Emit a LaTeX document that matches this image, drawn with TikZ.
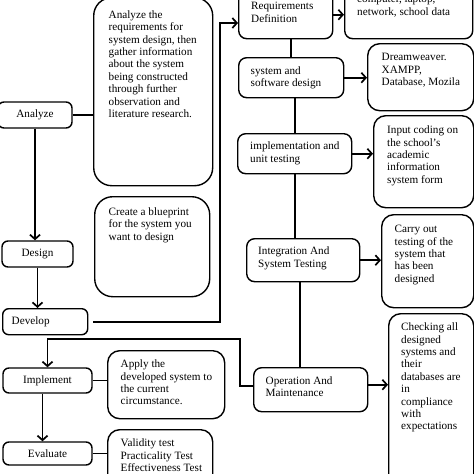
\documentclass[tikz,border=0pt]{standalone}
\usepackage{fontspec}
\setmainfont{Liberation Serif}
\usetikzlibrary{arrows.meta,calc}
\tikzset{
  every node/.style={font=\fontsize{11.2}{12.4}\selectfont},
  sbox/.style={draw, line width=1.4pt, rounded corners=6pt},
  box/.style={draw, line width=1.4pt, rounded corners=8pt},
  mbox/.style={draw, line width=1.4pt, rounded corners=12pt},
  bbox/.style={draw, line width=1.4pt, rounded corners=18pt},
  con/.style={line width=1.7pt},
  arr/.style={line width=1.7pt, -{Straight Barb[length=4.5pt,width=10pt]}}
}
% #1 style, #2 name, #3 x1, #4 y1, #5 x2, #6 y2, #7 text left x, #8 first baseline y, #9 text
\newcommand{\bx}[9][box]{%
  \pgfmathsetmacro\bxw{(#5)-(#3)}%
  \pgfmathsetmacro\bxh{(#6)-(#4)}%
  \pgfmathsetmacro\bxl{(#7)-(#3)}%
  \pgfmathsetmacro\bxv{(#8)-(#4)-8.68}%
  \node[#1, anchor=north west, inner sep=0pt] (#2) at (#3,#4)
    {\parbox[c][\bxh pt][t]{\bxw pt}{\vspace*{\bxv pt}\leftskip=\bxl pt\relax\rightskip=0pt plus 1fil\relax\noindent\strut #9}};%
}
\begin{document}
\begin{tikzpicture}[x=1pt,y=-1pt]
\useasboundingbox (0,0) rectangle (474,474);
\clip (0,0) rectangle (474,474);

% left column
\node[sbox, minimum width=74pt, minimum height=26pt] (an) at (35,115) {Analyze};
\node[sbox, minimum width=71pt, minimum height=26pt] (de) at (37.5,254) {Design};
\bx[sbox]{dv}{2}{308}{87}{334}{11}{324}{Develop}
\node[sbox, minimum width=89pt, minimum height=25pt] (imp) at (47.5,380.5) {Implement};
\node[sbox, minimum width=89pt, minimum height=23pt] (ev) at (47.5,453.5) {Evaluate};

% middle column
\bx[bbox]{b1}{93}{-3}{212}{185}{108}{17.5}{Analyze the\\ requirements for\\ system design, then\\ gather information\\ about the system\\ being constructed\\ through further\\ observation and\\ literature research.}
\bx[bbox]{b2}{94}{196}{209}{296}{108}{214.5}{Create a blueprint\\ for the system you\\ want to design}
\bx[mbox]{ap}{107}{350}{224}{418}{120}{367}{Apply the\\ developed system to\\ the current\\ circumstance.}
\bx[mbox]{va}{107}{429}{212}{495}{120}{446}{Validity test\\ Practicality Test\\ Effectiveness Test}

% right column
\bx{rq}{238}{-10}{332}{38}{250.5}{9}{Requirements\\ Definition}
\bx{tr}{344}{-10}{472}{38}{356.5}{2}{computer, laptop,\\ network, school data}
\bx{sy}{238}{57}{343}{97}{250}{73.5}{system and\\ software design}
\bx[mbox]{dw}{367}{43}{473}{110}{381}{60}{Dreamweaver.\\ XAMPP,\\ Database, Mozila}
\bx{im}{237}{133}{351}{173}{249.5}{149}{implementation and\\ unit testing}
\bx[mbox]{ic}{373}{115}{473}{207}{386.5}{133}{Input coding on\\ the school's\\ academic\\ information\\ system form}
\bx{it}{246}{238}{359}{281}{257.5}{254}{Integration And\\ System Testing}
\bx[mbox]{co}{381}{214}{473}{307}{394}{232}{Carry out\\ testing of the\\ system that\\ has been\\ designed}
\bx{op}{253}{367}{367}{411}{265}{383.5}{Operation And\\ Maintenance}
\bx[mbox]{ch}{388}{313}{473}{495}{400.5}{330}{Checking all\\ designed\\ systems and\\ their\\ databases are\\ in\\ compliance\\ with\\ expectations}

% helper coordinates
\coordinate (j1) at (220,23);
\coordinate (k1) at (240,339);

% left connectors
\draw[con] (an.east) -- (an.east -| b1.west);
\draw[arr] (an.south) -- (an.south |- de.north);
\draw[arr] (de.south) -- (de.south |- dv.north);
\draw[arr, shorten <=5pt] (dv.east) -| (j1) -- (j1 -| rq.west);
\draw[arr] ([yshift=4pt]op.west) -| (k1) -| (imp.north);
\draw[con] (imp.east) -- (imp.east -| ap.west);
\draw[arr] ([xshift=-5pt]imp.south) -- ([xshift=-5pt]imp.south |- ev.north);
\draw[con] (ev.east) -- (ev.east -| va.west);

% right connectors
\draw[arr] (rq.east |- tr.west) -- (tr.west);
\draw[con] (sy.north) -- (sy.north |- rq.south);
\draw[arr] (sy.east) -- (sy.east -| dw.west);
\draw[con] (im.north |- sy.south) -- (im.north);
\draw[arr] (im.east) -- (im.east -| ic.west);
\draw[con] (im.south) -- (im.south |- it.north);
\draw[arr] (it.east) -- (it.east -| co.west);
\draw[con] ([xshift=-3pt]it.south) -- ([xshift=-3pt]it.south |- op.north);
\draw[arr] ([yshift=5pt]op.east) -- ([yshift=5pt]op.east -| ch.west);
\end{tikzpicture}
\end{document}
